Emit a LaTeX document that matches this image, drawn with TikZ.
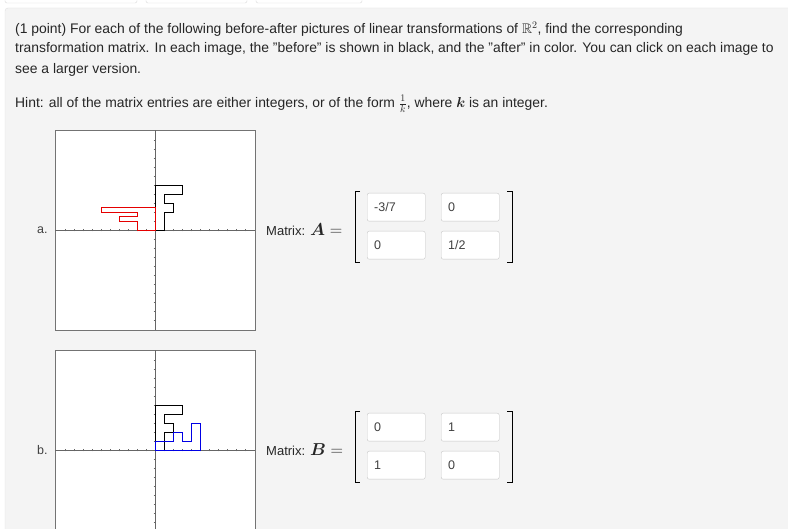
\documentclass[tikz,border=0pt]{standalone}
\usepackage{amsmath,amssymb}
\usepackage{fontspec}
\setmainfont{Liberation Sans}
\begin{document}
\begin{tikzpicture}[x=1pt,y=-1pt,
  txt/.style={anchor=west,inner sep=0pt,font=\fontsize{13.9}{16}\selectfont,text=black!85},
  ibox/.style={draw=black!22,fill=white,rounded corners=2pt,minimum width=58pt,minimum height=28pt,anchor=north west,inner sep=0pt},
  btxt/.style={anchor=west,inner sep=0pt,font=\fontsize{12.5}{14}\selectfont,text=black!75},
  frame/.style={draw=black!55,line width=0.9pt,fill=white},
  axis/.style={draw=black!60,line width=0.8pt},
  shapeF/.style={draw=black,line width=0.9pt},
  redF/.style={draw=red!90!black,line width=0.9pt},
  blueF/.style={draw=blue!90!black,line width=0.9pt},
  brk/.style={draw=black,line width=1pt}]
\useasboundingbox (0,0) rectangle (788,529);
\fill[white] (0,0) rectangle (788,529);
% tabs
\draw[black!15,fill=white,rounded corners=2pt] (5,-3) rectangle (137,3);
\draw[black!15,fill=white,rounded corners=2pt] (146,-3) rectangle (247,3);
\draw[black!15,fill=white,rounded corners=2pt] (256,-3) rectangle (362,3);
\draw[black!12,fill=black!4.5,rounded corners=3pt] (5,8) rectangle (800,540);
% text
\node[txt] (l1) at (15,29) {(1 point) For each of the following before-after pictures of linear transformations of $\mathbb{R}^2$, find the corresponding};
\node[txt] (l2) at (15,49) {transformation matrix. In each image, the \symbol{34}before\symbol{34} is shown in black, and the \symbol{34}after\symbol{34} in color. You can click on each image to};
\node[txt] (l3) at (15,70) {see a larger version.};
\node[txt] (l4) at (15,104) {Hint: all of the matrix entries are either integers, or of the form $\frac{1}{k}$, where $\boldsymbol{k}$ is an integer.};
% graphs
\foreach \oy in {0,220}{
  \draw[frame] (55,130+\oy) rectangle (255,330+\oy);}
\begin{scope}
  \clip (0,0) rectangle (788,529);
  \foreach \oy in {0,220}{
  \begin{scope}[shift={(155,230+\oy)},x=9pt,y=9pt]
   \draw[axis] (-11.1,0) -- (11.1,0);
   \draw[axis] (0,-11.1) -- (0,11.1);
   \foreach \t in {-10,...,-1,1,2,...,10}{
     \draw[axis,line width=0.6pt] (\t,-0.15) -- (\t,0.15);
     \draw[axis,line width=0.6pt] (-0.15,\t) -- (0.15,\t);}
   \draw[shapeF] (0,0) -- (0,5) -- (3,5) -- (3,4) -- (1,4) -- (1,3) -- (2,3) -- (2,2) -- (1,2) -- (1,0) -- cycle;
   \ifnum\oy=0
    \draw[redF] (0,0) -- (0,2.5) -- (-6,2.5) -- (-6,2) -- (-2,2) -- (-2,1.5) -- (-4,1.5) -- (-4,1) -- (-2,1) -- (-2,0) -- cycle;
   \else
    \draw[blueF] (0,0) -- (5,0) -- (5,3) -- (4,3) -- (4,1) -- (3,1) -- (3,2) -- (2,2) -- (2,1) -- (0,1) -- cycle;
   \fi
  \end{scope}}
\end{scope}
\node[btxt] (la) at (37,230) {a.};
\node[btxt] (lb) at (37,450) {b.};
% matrices
\foreach \oy/\M/\a/\b/\c/\d in {0/A/-3\slash7/0/0/1\slash2, 220/B/0/1/1/0}{
  \node[txt,font=\fontsize{13}{14}\selectfont] at (266,230+\oy) {Matrix: {\fontsize{16}{16}\selectfont$\boldsymbol{\M} =$}};
  \draw[brk] (360,192+\oy) -- (355,192+\oy) -- (355,263+\oy) -- (360,263+\oy);
  \draw[brk] (507,192+\oy) -- (512,192+\oy) -- (512,263+\oy) -- (507,263+\oy);
  \node[ibox] at (367,193+\oy) {};
  \node[ibox] at (441,193+\oy) {};
  \node[ibox] at (367,231+\oy) {};
  \node[ibox] at (441,231+\oy) {};
  \node[btxt] at (374,207+\oy) {\a};
  \node[btxt] at (448,207+\oy) {\b};
  \node[btxt] at (374,245+\oy) {\c};
  \node[btxt] at (448,245+\oy) {\d};
}
\end{tikzpicture}
\end{document}
